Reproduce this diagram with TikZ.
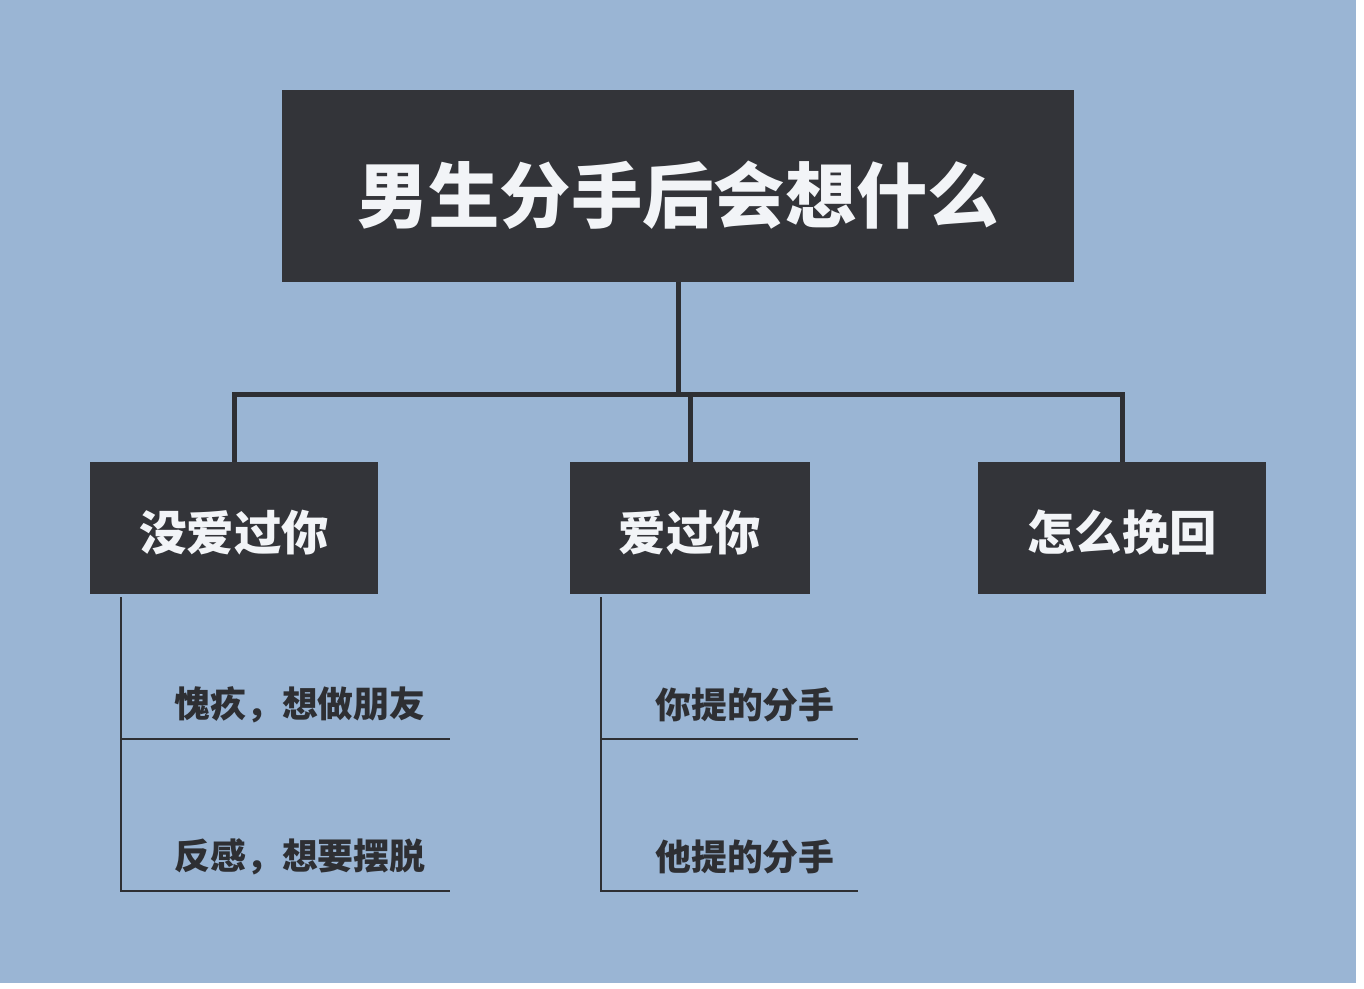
\documentclass[tikz,border=0pt]{standalone}
\usepackage{fontspec}
\newfontfamily\cjk{Noto Sans CJK SC}
\definecolor{bgblue}{HTML}{9AB5D4}
\definecolor{boxgray}{HTML}{333439}
\definecolor{boxtext}{HTML}{F2F4F7}
\definecolor{linegray}{HTML}{2E2F33}
\begin{document}
\begin{tikzpicture}[x=0.02cm, y=-0.02cm,
		darkbox/.style={fill=boxgray, text=boxtext, inner sep=0pt,
			text height=26pt, text depth=0pt,
			font=\cjk\bfseries\fontsize{27pt}{30pt}\selectfont},
		titlebox/.style={darkbox, minimum width=15.84cm, minimum height=3.84cm,
			text height=41pt,
			font=\cjk\bfseries\fontsize{40.6pt}{44pt}\selectfont},
		wide/.style={minimum width=5.76cm, minimum height=2.64cm},
		narrow/.style={minimum width=4.8cm, minimum height=2.64cm},
		leaf/.style={text=linegray, inner sep=0pt,
			font=\cjk\bfseries\fontsize{20.4pt}{24pt}\selectfont},
		trunk/.style={draw=linegray, line width=2.85pt},
		twig/.style={draw=linegray, line width=1.4pt} ]
	\fill[white] (0,0) rectangle (1364,988);
	\fill[bgblue] (0,0) rectangle (1356,983);
	% boxes
	\node [titlebox] (top) at (678,186) {男生分手后会想什么};
	\node [darkbox,wide] (left) at (234,528) {没爱过你};
	\node [darkbox,narrow] (mid) at (690,528) {爱过你};
	\node [darkbox,wide] (right) at (1122,528) {怎么挽回};
	% tree
	\coordinate (hub) at (678,394);
	\draw [trunk] (top.south) -- (hub);
	\draw [trunk] (left.north) |- (hub) -| (right.north);
	\draw [trunk] (hub -| mid.north) -- (mid.north);
	% leaves
	\node [leaf] (l1) at (300,705) {愧疚，想做朋友};
	\node [leaf] (l2) at (300,857) {反感，想要摆脱};
	\node [leaf] (m1) at (745,705) {你提的分手};
	\node [leaf] (m2) at (745,857) {他提的分手};
	\coordinate (lstem) at (121,597);
	\coordinate (lfork) at (121,739);
	\coordinate (lfoot) at (121,891);
	\coordinate (mstem) at (601,597);
	\coordinate (mfork) at (601,739);
	\coordinate (mfoot) at (601,891);
	\draw [twig] (lstem) -- (lfoot) -- (lfoot -| 450,0);
	\draw [twig] (lfork) -- (lfork -| 450,0);
	\draw [twig] (mstem) -- (mfoot) -- (mfoot -| 858,0);
	\draw [twig] (mfork) -- (mfork -| 858,0);
\end{tikzpicture}
\end{document}
